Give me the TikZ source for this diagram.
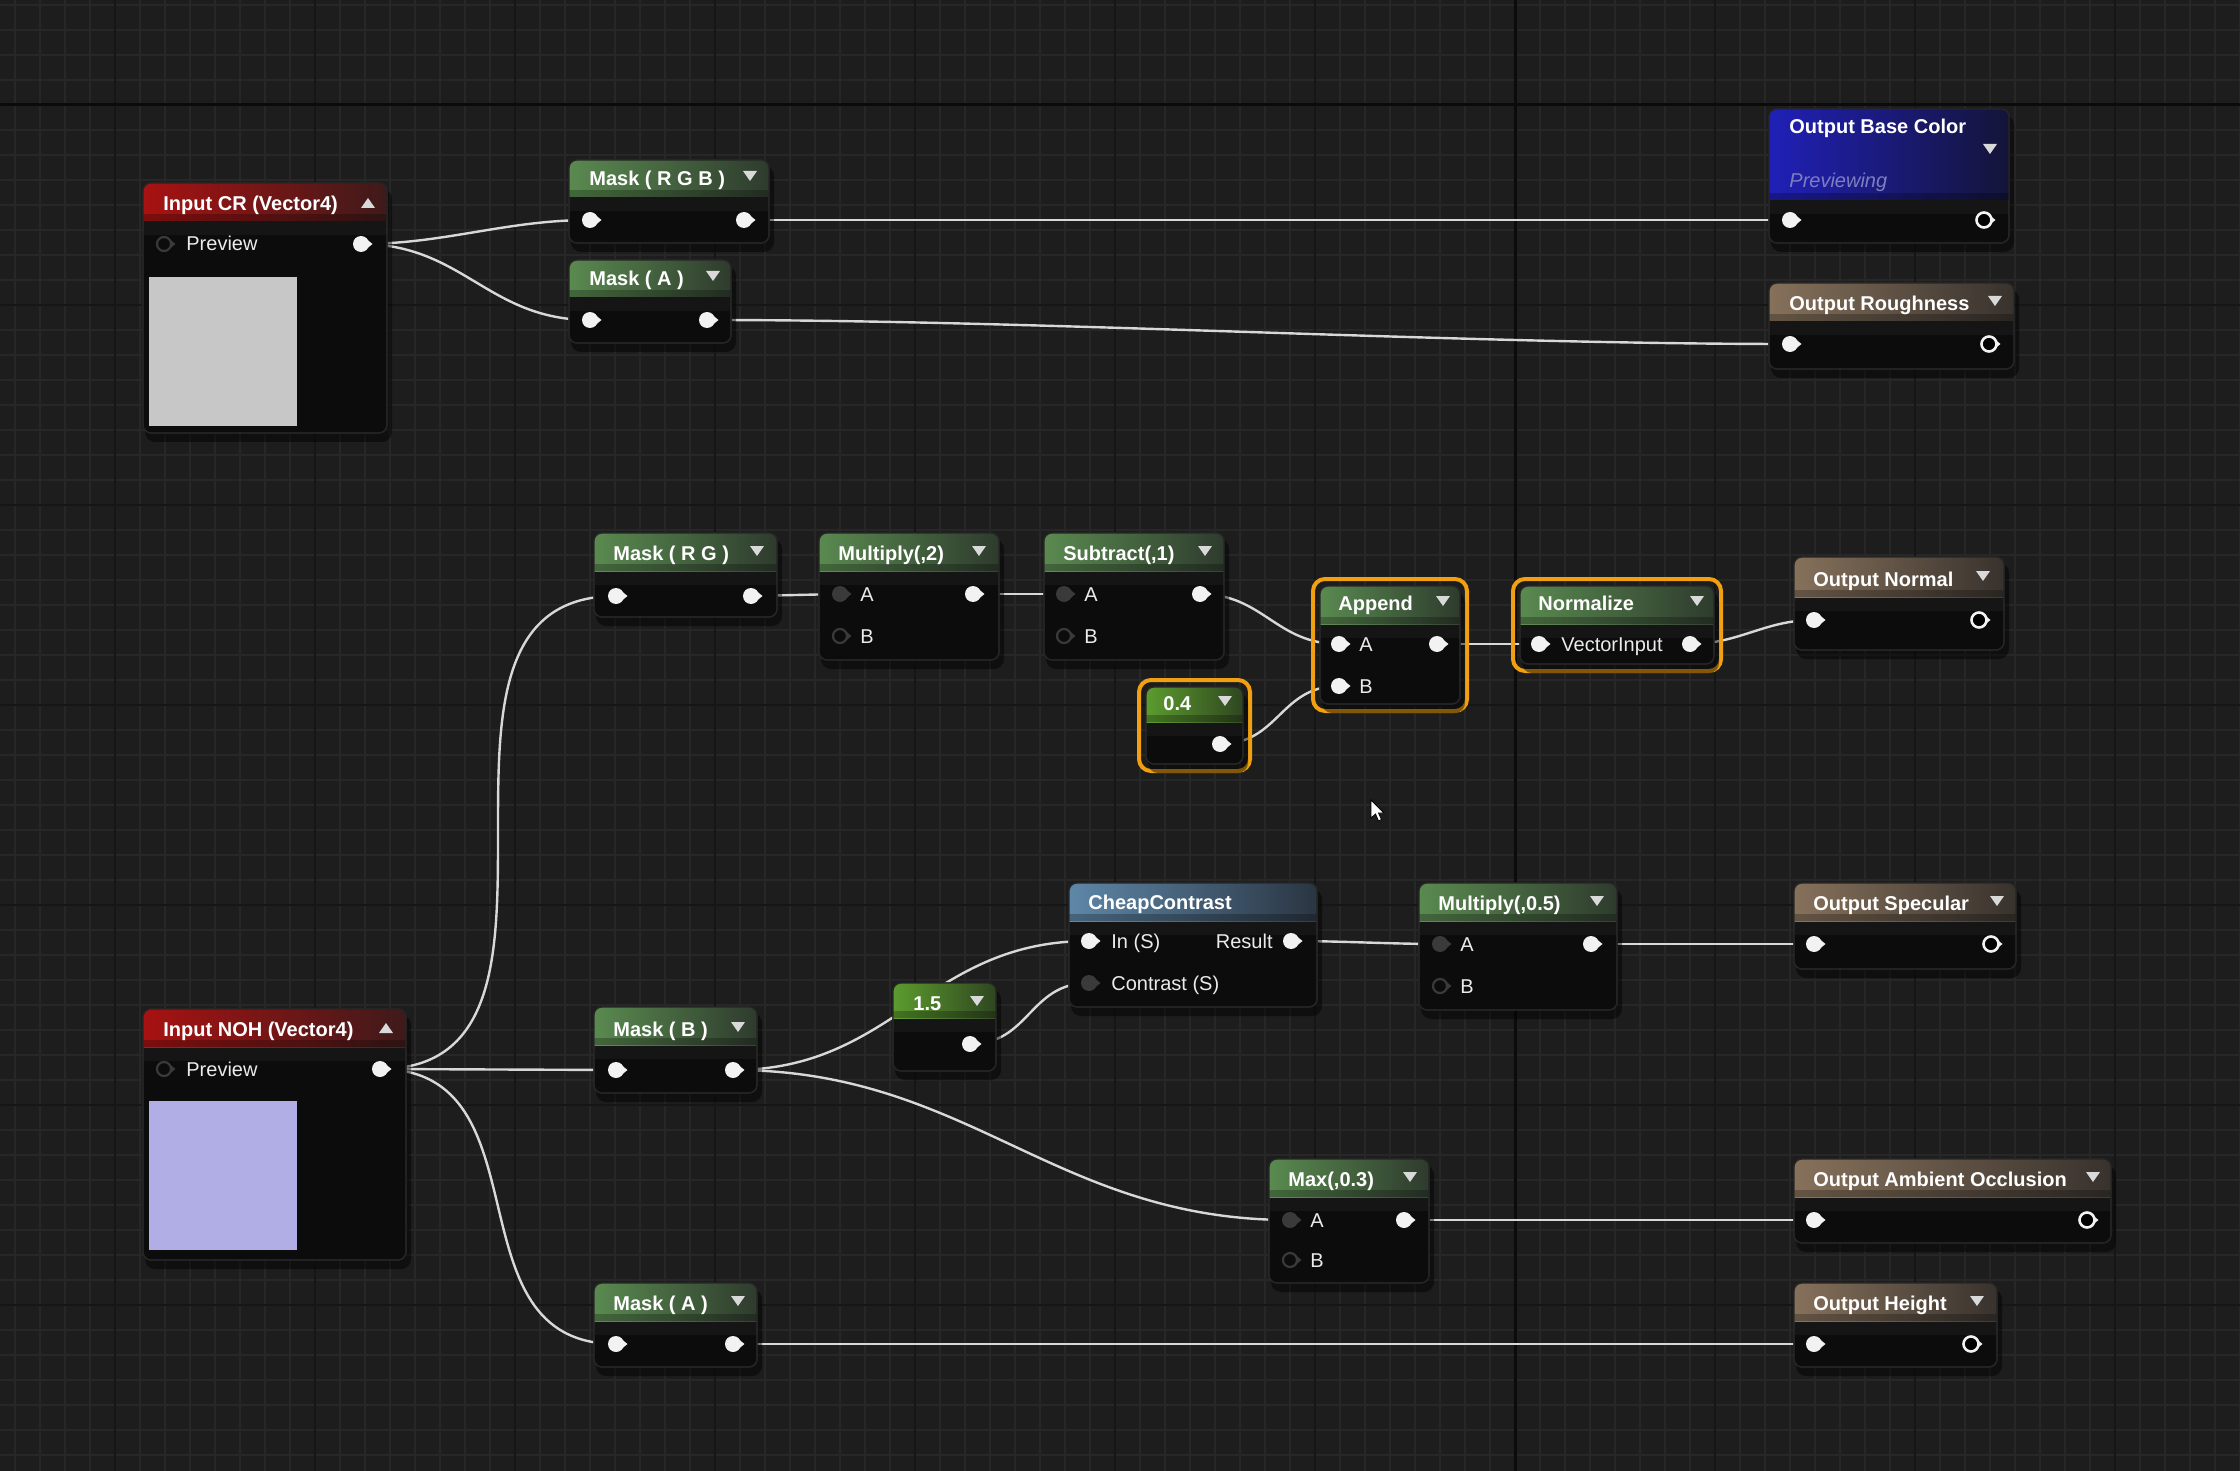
\documentclass[tikz,border=0pt]{standalone}
\usepackage{fontspec}
\setmainfont{Liberation Sans}
\usetikzlibrary{fit}
\definecolor{bgc}{HTML}{1D1D1D}
\definecolor{gminor}{HTML}{272727}
\definecolor{gmajor}{HTML}{161616}
\definecolor{gorigin}{HTML}{0B0B0B}
\definecolor{bodyc}{HTML}{0C0C0C}
\definecolor{bordc}{HTML}{262626}
\definecolor{wirec}{HTML}{D8D8D8}
\definecolor{pinw}{HTML}{F2F2F2}
\definecolor{pind}{HTML}{3A3A3A}
\definecolor{pinr}{HTML}{3A3A3A}
\definecolor{redL}{HTML}{A81212}
\definecolor{redR}{HTML}{3E1A1A}
\definecolor{grnL}{HTML}{5A8A50}
\definecolor{grnR}{HTML}{2E3B2D}
\definecolor{cgrL}{HTML}{5C9C2E}
\definecolor{cgrR}{HTML}{2F4620}
\definecolor{brnL}{HTML}{86715B}
\definecolor{brnR}{HTML}{38322D}
\definecolor{bluL}{HTML}{2020B8}
\definecolor{bluR}{HTML}{141438}
\definecolor{ccL}{HTML}{5E87A8}
\definecolor{ccR}{HTML}{2A3542}
\definecolor{selc}{HTML}{F0A010}
\definecolor{prevc}{HTML}{7E7EC0}
\definecolor{swgrey}{HTML}{C7C7C7}
\definecolor{swlav}{HTML}{B1AEE6}
\pgfdeclarelayer{gridlayer}
\pgfdeclarelayer{wirelayer}
\pgfsetlayers{gridlayer,wirelayer,main}
\tikzset{
  bodybox/.style={draw=bordc, line width=0.6pt, fill=bodyc, rounded corners=4pt, inner sep=0pt},
  ttlst/.style={text=white, font=\bfseries\fontsize{10}{12}\selectfont, inner sep=0pt},
  plabst/.style={text=white!92!black, font=\fontsize{10}{12}\selectfont, inner sep=0pt},
  wire/.style={draw=wirec, line width=1.2pt},
  sel/.style={draw=selc, line width=2pt, rounded corners=6pt},
  pw/.style={circle, fill=pinw, minimum size=8pt, inner sep=0pt},
  pw tip/.style={fill=pinw},
  pd/.style={circle, fill=pind, minimum size=8pt, inner sep=0pt},
  pd tip/.style={fill=pind},
  pr/.style={circle, draw=pinr, line width=1.1pt, fill=bodyc, minimum size=7pt, inner sep=0pt},
  pr tip/.style={fill=pinr},
  po/.style={circle, draw=pinw, line width=1.3pt, fill=black, minimum size=7.5pt, inner sep=0pt},
  po tip/.style={fill=pinw},
  trc/.style={fill=white!85!black},
}
% name, x0, y0, x1, y1, header bottom, left colour, right colour
\newcommand\uenode[8]{%
  \fill[black, opacity=0.45, rounded corners=5pt] (#2+2,#3+6) rectangle (#4+5,#5+9);
  \node[bodybox, fit={(#2,#3) (#4,#5)}] (#1) {};
  \begin{scope}
    \clip[rounded corners=4pt] (#2,#3) rectangle (#4,#5);
    \shade[left color=#7, right color=#8] (#2,#3) rectangle (#4,#6);
    \fill[black, opacity=0.25] (#2,#6-7) rectangle (#4,#6);
    \fill[white, opacity=0.04] (#2,#6) rectangle (#4,#6+14);
  \end{scope}
  \draw[bordc, line width=0.6pt, rounded corners=4pt] (#2,#3) rectangle (#4,#5);
}
\newcommand\upin[4]{\node[#1] (#2) at (#3,#4) {};\fill[#1 tip] (#3+6,#4-4.5) -- (#3+11.5,#4) -- (#3+6,#4+4.5) -- cycle;}
\newcommand\ttl[4]{\node[ttlst, anchor=base west] (#1) at (#2,#3+7.5) {#4};}
\newcommand\plab[4]{\node[plabst, anchor=base west] (#1) at (#2,#3+7) {#4};}
\newcommand\tdown[2]{\fill[trc] (#1-7,#2-5) -- (#1+7,#2-5) -- (#1,#2+5) -- cycle;}
\newcommand\tup[2]{\fill[trc] (#1-7,#2+5) -- (#1+7,#2+5) -- (#1,#2-5) -- cycle;}

\begin{document}
\begin{tikzpicture}[x=0.5pt, y=-0.5pt]
\useasboundingbox (0,0) rectangle (2240,1471);
\begin{pgfonlayer}{gridlayer}
  \fill[bgc] (0,0) rectangle (2240,1471);
  \foreach \i in {0,...,89} \draw[gminor, line width=0.6pt] (15+25*\i,0) -- (15+25*\i,1471);
  \foreach \i in {0,...,58} \draw[gminor, line width=0.6pt] (0,5+25*\i) -- (2240,5+25*\i);
  \foreach \i in {0,...,10} \draw[gmajor, line width=0.8pt] (115+200*\i,0) -- (115+200*\i,1471);
  \foreach \i in {1,...,6} \draw[gmajor, line width=0.8pt] (0,105+200*\i) -- (2240,105+200*\i);
  \draw[gorigin, line width=1.5pt] (1515,0) -- (1515,1471);
  \draw[gorigin, line width=1.5pt] (0,105) -- (2240,105);
\end{pgfonlayer}

% ---------- Input CR ----------
\uenode{cr}{143}{183}{387}{433}{221}{redL}{redR}
\ttl{cr-t}{163}{203}{Input CR (Vector4)}
\tup{368}{203}
\upin{pr}{cr-pv}{164}{244}
\plab{cr-pl}{186}{244}{Preview}
\upin{pw}{cr-o}{361}{244}
\fill[swgrey] (149,277) rectangle (297,426);

% ---------- Mask RGB ----------
\uenode{rgb}{569}{160}{769}{243}{197}{grnL}{grnR}
\ttl{rgb-t}{589}{178}{Mask ( R G B )}
\tdown{750}{176}
\upin{pw}{rgb-i}{590}{220}
\upin{pw}{rgb-o}{744}{220}

% ---------- Mask A (top) ----------
\uenode{ma}{569}{260}{731}{343}{297}{grnL}{grnR}
\ttl{ma-t}{589}{278}{Mask ( A )}
\tdown{713}{276}
\upin{pw}{ma-i}{590}{320}
\upin{pw}{ma-o}{707}{320}

% ---------- Output Base Color ----------
\uenode{bc}{1769}{109}{2009}{243}{200}{bluL}{bluR}
\ttl{bc-t}{1789}{126}{Output Base Color}
\tdown{1990}{149}
\node[text=prevc, font=\itshape\fontsize{10}{12}\selectfont, inner sep=0pt, anchor=base west] (bc-p) at (1789,188) {Previewing};
\upin{pw}{bc-i}{1790}{220}
\upin{po}{bc-o}{1984}{220}

% ---------- Output Roughness ----------
\uenode{ro}{1769}{283}{2014}{369}{321}{brnL}{brnR}
\ttl{ro-t}{1789}{303}{Output Roughness}
\tdown{1995}{301}
\upin{pw}{ro-i}{1790}{344}
\upin{po}{ro-o}{1989}{344}

% ---------- Mask RG ----------
\uenode{rg}{594}{533}{777}{617}{571}{grnL}{grnR}
\ttl{rg-t}{613}{553}{Mask ( R G )}
\tdown{757}{551}
\upin{pw}{rg-i}{616}{596}
\upin{pw}{rg-o}{751}{596}

% ---------- Multiply(,2) ----------
\uenode{m2}{819}{533}{999}{660}{571}{grnL}{grnR}
\ttl{m2-t}{838}{553}{Multiply(,2)}
\tdown{979}{551}
\upin{pd}{m2-a}{840}{594}
\plab{m2-al}{860}{594}{A}
\upin{pr}{m2-b}{840}{636}
\plab{m2-bl}{860}{636}{B}
\upin{pw}{m2-o}{973}{594}

% ---------- Subtract(,1) ----------
\uenode{sb}{1044}{533}{1224}{660}{571}{grnL}{grnR}
\ttl{sb-t}{1063}{553}{Subtract(,1)}
\tdown{1205}{551}
\upin{pd}{sb-a}{1064}{594}
\plab{sb-al}{1084}{594}{A}
\upin{pr}{sb-b}{1064}{636}
\plab{sb-bl}{1084}{636}{B}
\upin{pw}{sb-o}{1200}{594}

% ---------- 0.4 ----------
\draw[sel] (1139,680) rectangle (1250,771);
\uenode{c4}{1146}{687}{1243}{764}{722}{cgrL}{cgrR}
\ttl{c4-t}{1163}{703}{0.4}
\tdown{1225}{701}
\upin{pw}{c4-o}{1220}{744}

% ---------- Append ----------
\draw[sel] (1313,579) rectangle (1467,711);
\uenode{ap}{1320}{586}{1460}{704}{624}{grnL}{grnR}
\ttl{ap-t}{1338}{603}{Append}
\tdown{1443}{601}
\upin{pw}{ap-a}{1339}{644}
\plab{ap-al}{1359}{644}{A}
\upin{pw}{ap-b}{1339}{686}
\plab{ap-bl}{1359}{686}{B}
\upin{pw}{ap-o}{1437}{644}

% ---------- Normalize ----------
\draw[sel] (1513,579) rectangle (1721,671);
\uenode{nz}{1520}{586}{1714}{664}{624}{grnL}{grnR}
\ttl{nz-t}{1538}{603}{Normalize}
\tdown{1697}{601}
\upin{pw}{nz-i}{1539}{644}
\plab{nz-l}{1561}{644}{VectorInput}
\upin{pw}{nz-o}{1690}{644}

% ---------- Output Normal ----------
\uenode{on}{1794}{557}{2004}{650}{597}{brnL}{brnR}
\ttl{on-t}{1813}{579}{Output Normal}
\tdown{1983}{576}
\upin{pw}{on-i}{1814}{620}
\upin{po}{on-o}{1979}{620}

% ---------- CheapContrast ----------
\uenode{cc}{1069}{883}{1317}{1007}{921}{ccL}{ccR}
\ttl{cc-t}{1088}{902}{CheapContrast}
\upin{pw}{cc-i}{1089}{941}
\plab{cc-il}{1111}{941}{In (S)}
\node[plabst, anchor=base east] (cc-ol) at (1273,948) {Result};
\upin{pw}{cc-o}{1291}{941}
\upin{pd}{cc-c}{1089}{983}
\plab{cc-cl}{1111}{983}{Contrast (S)}

% ---------- Multiply(,0.5) ----------
\uenode{m5}{1419}{883}{1617}{1010}{921}{grnL}{grnR}
\ttl{m5-t}{1438}{903}{Multiply(,0.5)}
\tdown{1597}{901}
\upin{pd}{m5-a}{1440}{944}
\plab{m5-al}{1460}{944}{A}
\upin{pr}{m5-b}{1440}{986}
\plab{m5-bl}{1460}{986}{B}
\upin{pw}{m5-o}{1591}{944}

% ---------- Output Specular ----------
\uenode{sp}{1794}{883}{2016}{969}{921}{brnL}{brnR}
\ttl{sp-t}{1813}{903}{Output Specular}
\tdown{1997}{901}
\upin{pw}{sp-i}{1814}{944}
\upin{po}{sp-o}{1991}{944}

% ---------- 1.5 ----------
\uenode{c15}{893}{983}{996}{1071}{1018}{cgrL}{cgrR}
\ttl{c15-t}{913}{1003}{1.5}
\tdown{977}{1001}
\upin{pw}{c15-o}{970}{1044}

% ---------- Input NOH ----------
\uenode{noh}{143}{1009}{406}{1260}{1047}{redL}{redR}
\ttl{noh-t}{163}{1029}{Input NOH (Vector4)}
\tup{386}{1028}
\upin{pr}{noh-pv}{164}{1069}
\plab{noh-pl}{186}{1069}{Preview}
\upin{pw}{noh-o}{380}{1069}
\fill[swlav] (149,1101) rectangle (297,1250);

% ---------- Mask B ----------
\uenode{mb}{594}{1007}{757}{1093}{1045}{grnL}{grnR}
\ttl{mb-t}{613}{1029}{Mask ( B )}
\tdown{738}{1027}
\upin{pw}{mb-i}{616}{1070}
\upin{pw}{mb-o}{733}{1070}

% ---------- Max(,0.3) ----------
\uenode{mx}{1269}{1159}{1429}{1283}{1197}{grnL}{grnR}
\ttl{mx-t}{1288}{1179}{Max(,0.3)}
\tdown{1410}{1177}
\upin{pd}{mx-a}{1290}{1220}
\plab{mx-al}{1310}{1220}{A}
\upin{pr}{mx-b}{1290}{1260}
\plab{mx-bl}{1310}{1260}{B}
\upin{pw}{mx-o}{1404}{1220}

% ---------- Output Ambient Occlusion ----------
\uenode{ao}{1794}{1159}{2111}{1243}{1197}{brnL}{brnR}
\ttl{ao-t}{1813}{1179}{Output Ambient Occlusion}
\tdown{2093}{1177}
\upin{pw}{ao-i}{1814}{1220}
\upin{po}{ao-o}{2087}{1220}

% ---------- Mask A (bottom) ----------
\uenode{mab}{594}{1283}{757}{1367}{1321}{grnL}{grnR}
\ttl{mab-t}{613}{1303}{Mask ( A )}
\tdown{738}{1301}
\upin{pw}{mab-i}{616}{1344}
\upin{pw}{mab-o}{733}{1344}

% ---------- Output Height ----------
\uenode{ht}{1794}{1283}{1997}{1367}{1321}{brnL}{brnR}
\ttl{ht-t}{1813}{1303}{Output Height}
\tdown{1977}{1301}
\upin{pw}{ht-i}{1814}{1344}
\upin{po}{ht-o}{1971}{1344}

% ---------- wires ----------
\begin{pgfonlayer}{wirelayer}
  \draw[wire] (cr-o.center) .. controls +(84,0) and +(-84,0) .. (rgb-i.center);
  \draw[wire] (cr-o.center) .. controls +(102,0) and +(-102,0) .. (ma-i.center);
  \draw[wire] (rgb-o.center) -- (bc-i.center);
  \draw[wire] (ma-o.center) .. controls +(340,0) and +(-340,0) .. (ro-i.center);
  \draw[wire] (noh-o.center) .. controls +(236,0) and +(-236,0) .. (rg-i.center);
  \draw[wire] (noh-o.center) -- (mb-i.center);
  \draw[wire] (noh-o.center) .. controls +(170,0) and +(-170,0) .. (mab-i.center);
  \draw[wire] (rg-o.center) -- (m2-a.center);
  \draw[wire] (m2-o.center) -- (sb-a.center);
  \draw[wire] (sb-o.center) .. controls +(63,0) and +(-63,0) .. (ap-a.center);
  \draw[wire] (c4-o.center) .. controls +(59,0) and +(-59,0) .. (ap-b.center);
  \draw[wire] (ap-o.center) -- (nz-i.center);
  \draw[wire] (nz-o.center) .. controls +(49,0) and +(-49,0) .. (on-i.center);
  \draw[wire] (mb-o.center) .. controls +(162,0) and +(-162,0) .. (cc-i.center);
  \draw[wire] (c15-o.center) .. controls +(60,0) and +(-60,0) .. (cc-c.center);
  \draw[wire] (mb-o.center) .. controls +(236,0) and +(-236,0) .. (mx-a.center);
  \draw[wire] (cc-o.center) .. controls +(50,0) and +(-50,0) .. (m5-a.center);
  \draw[wire] (m5-o.center) -- (sp-i.center);
  \draw[wire] (mx-o.center) -- (ao-i.center);
  \draw[wire] (mab-o.center) -- (ht-i.center);
\end{pgfonlayer}

% mouse cursor
\fill[white, draw=black, line width=0.4pt] (1371,800) -- (1371,818) -- (1375.5,814) -- (1378.5,821) -- (1381.5,819.5) -- (1378.5,813) -- (1384,813) -- cycle;
\end{tikzpicture}
\end{document}
